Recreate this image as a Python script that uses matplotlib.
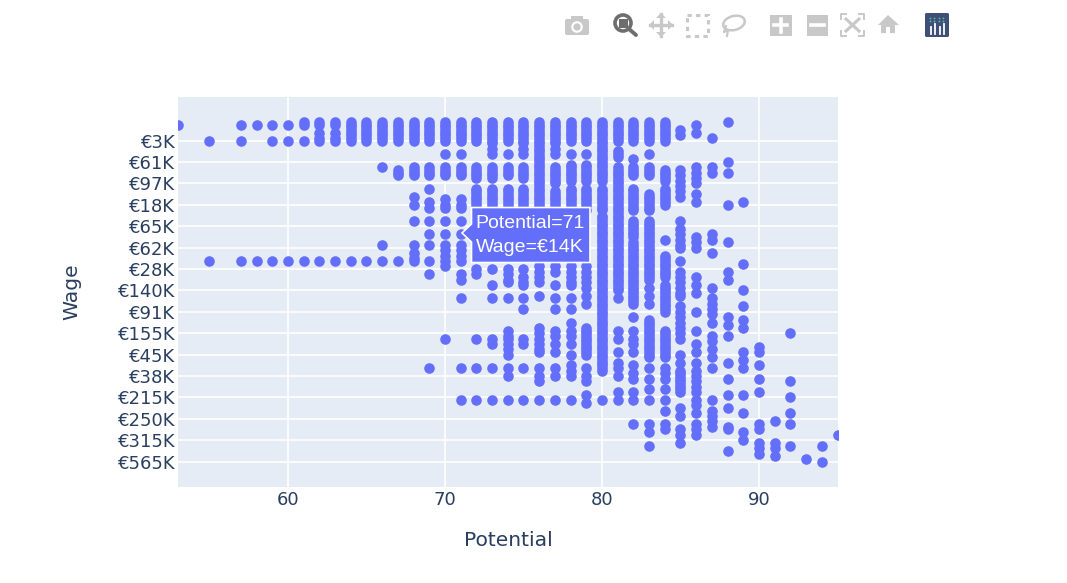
import matplotlib
matplotlib.use('Agg')
import matplotlib.pyplot as plt
from matplotlib.patches import Rectangle, Polygon, Circle, FancyBboxPatch, Ellipse

# Wage is a category axis, rows are category positions counted from the top
rows_53 = [1]
rows_55 = [7, 52]
rows_57 = [1, 7, 52]
rows_58 = [1, 52]
rows_59 = [1, 7, 52]
rows_60 = [1, 7, 52]
rows_61 = [0, 1, 7, 52]
rows_62 = [0, 1, 4, 6, 7, 52]
rows_63 = [0, 1, 4, 6, 7, 52]
rows_64 = [0, 1, 2, 3, 4, 5, 6, 7, 52]
rows_65 = [0, 1, 2, 3, 4, 5, 6, 7, 52]
rows_66 = [0, 1, 2, 3, 4, 5, 6, 7, 17, 46, 52]
rows_67 = [0, 1, 2, 3, 4, 5, 6, 7, 18, 19, 20, 52]
rows_68 = [0, 1, 2, 3, 4, 5, 6, 7, 17, 18, 19, 20, 28, 31, 37, 46, 49, 51, 52]
rows_69 = [0, 1, 2, 3, 4, 5, 6, 7, 17, 18, 19, 20, 25, 30, 32, 37, 42, 46, 52, 57, 92]
rows_70 = [0, 1, 2, 3, 4, 5, 6, 7, 12, 17, 18, 19, 20, 29, 31, 32, 37, 42, 46, 48, 50, 52, 54, 81]
rows_71 = [0, 1, 2, 3, 4, 5, 6, 7, 12, 17, 18, 19, 20, 29, 31, 32, 37, 42, 46, 48, 50, 52, 57, 59, 66, 92,
           104]
rows_72 = [0, 1, 2, 3, 4, 5, 6, 7, 17, 18, 19, 20, 21, 25, 26, 27, 28, 29, 30, 31, 33, 55, 57, 81, 92, 104]
rows_73 = [0, 1, 2, 3, 4, 5, 6, 7, 8, 10, 12, 17, 18, 19, 20, 21, 25, 26, 27, 28, 29, 30, 31, 33, 55, 61,
           66, 81, 83, 92, 104]
rows_74 = [0, 1, 2, 3, 4, 5, 6, 7, 12, 17, 18, 19, 20, 25, 26, 27, 28, 29, 30, 31, 33, 55, 57, 59, 60, 66,
           78, 80, 81, 83, 85, 87, 92, 95, 104]
rows_75 = [0, 1, 2, 3, 4, 5, 6, 7, 8, 10, 12, 17, 18, 19, 20, 21, 25, 26, 27, 28, 29, 30, 31, 33, 55, 58,
           60, 61, 66, 70, 81, 83, 92, 104]
rows_76 = [0, 1, 2, 3, 4, 5, 6, 7, 8, 9, 10, 11, 12, 13, 14, 15, 16, 17, 18, 19, 20, 21, 22, 23, 24, 25,
           26, 27, 28, 29, 30, 31, 32, 54, 56, 58, 60, 65, 77, 79, 81, 83, 85, 86, 92, 95, 97, 104]
rows_77 = [0, 1, 2, 3, 4, 5, 6, 7, 8, 10, 12, 17, 18, 19, 20, 21, 22, 23, 26, 27, 28, 29, 30, 31, 33, 54,
           56, 61, 66, 70, 78, 80, 83, 86, 92, 95, 104]
rows_78 = [0, 1, 2, 3, 4, 5, 6, 7, 12, 16, 17, 18, 19, 20, 21, 22, 25, 26, 27, 28, 29, 30, 31, 33, 54, 56,
           58, 60, 61, 66, 70, 75, 78, 80, 83, 87, 91, 93, 95, 104]
rows_79 = [0, 1, 2, 3, 4, 5, 6, 7, 12, 16, 17, 18, 19, 20, 21, 22, 25, 26, 27, 28, 29, 30, 31, 33, 54, 56,
           58, 60, 62, 65, 68, 77, 78, 79, 80, 81, 82, 83, 84, 85, 86, 87, 92, 95, 97, 102, 105]
rows_80 = [0, 1, 2, 3, 4, 5, 6, 7, 8, 9, 10, 11, 12, 13, 14, 15, 16, 17, 18, 19, 20, 21, 22, 25, 26, 27,
           28, 29, 30, 31, 32, 33, 35, 36, 37, 38, 39, 40, 41, 42, 43, 44, 45, 46, 47, 48, 49, 50, 51, 52,
           53, 54, 55, 56, 57, 58, 59, 60, 61, 62, 63, 64, 65, 66, 67, 68, 69, 70, 71, 72, 73, 74, 75, 76,
           77, 78, 79, 80, 81, 82, 83, 84, 85, 86, 87, 88, 89, 90, 91, 92, 93, 104]
rows_81 = [0, 1, 2, 3, 4, 5, 6, 7, 11, 12, 13, 17, 18, 19, 20, 21, 22, 23, 24, 25, 26, 27, 28, 29, 30, 31,
           32, 33, 34, 35, 36, 37, 38, 39, 40, 41, 42, 43, 44, 45, 46, 47, 48, 49, 50, 51, 52, 53, 54, 55,
           56, 57, 58, 59, 60, 61, 62, 63, 66, 78, 81, 86, 90, 92, 95, 101, 104]
rows_82 = [0, 1, 2, 3, 4, 5, 6, 7, 14, 17, 18, 19, 20, 25, 26, 27, 28, 29, 30, 31, 32, 33, 37, 38, 39, 40,
           41, 42, 43, 45, 46, 47, 48, 49, 50, 51, 52, 53, 54, 55, 56, 57, 58, 59, 60, 61, 62, 63, 64, 65,
           66, 67, 68, 73, 78, 81, 83, 86, 91, 94, 96, 101, 104, 113]
rows_83 = [0, 1, 2, 3, 4, 5, 6, 7, 12, 17, 18, 19, 20, 27, 28, 29, 30, 31, 32, 33, 37, 38, 39, 40, 41, 42,
           43, 44, 45, 46, 47, 48, 49, 50, 51, 52, 53, 54, 55, 56, 57, 58, 59, 62, 65, 68, 74, 75, 76, 77,
           78, 79, 80, 81, 82, 83, 84, 85, 86, 87, 88, 92, 96, 100, 104, 113, 116, 121]
rows_84 = [0, 1, 2, 3, 4, 5, 6, 7, 18, 19, 20, 21, 22, 25, 26, 27, 28, 29, 30, 31, 44, 50, 51, 52, 53, 54,
           55, 56, 57, 58, 61, 62, 63, 64, 65, 66, 67, 68, 69, 70, 71, 78, 79, 80, 81, 82, 83, 84, 85, 86,
           87, 88, 92, 94, 96, 100, 104, 108, 113, 115]
rows_85 = [3, 5, 18, 20, 22, 24, 26, 28, 37, 40, 42, 44, 46, 47, 52, 56, 58, 60, 62, 64, 65, 69, 71, 73,
           75, 77, 79, 81, 87, 90, 93, 94, 95, 96, 97, 98, 99, 100, 101, 107, 110, 115, 117, 120]
rows_86 = [1, 4, 17, 19, 21, 23, 27, 30, 43, 45, 47, 58, 61, 64, 71, 78, 83, 86, 90, 93, 95, 97, 99, 101,
           104, 106, 109, 113, 115, 117]
rows_87 = [6, 17, 19, 42, 44, 49, 62, 66, 68, 70, 72, 75, 80, 82, 85, 88, 92, 104, 108, 110, 112, 114]
rows_88 = [0, 15, 19, 31, 45, 56, 59, 73, 76, 80, 90, 96, 102, 107, 114, 115, 123]
rows_89 = [30, 53, 63, 69, 74, 77, 86, 89, 92, 102, 109, 116, 119]
rows_90 = [84, 86, 91, 96, 101, 113, 115, 120, 122, 124]
rows_91 = [112, 120, 122, 125]
rows_92 = [79, 97, 103, 109, 113, 121]
rows_93 = [126]
rows_94 = [121, 127]
rows_95 = [117]

potentials = [53, 55, 57, 58, 59, 60, 61, 62, 63, 64, 65, 66, 67, 68, 69, 70, 71, 72, 73, 74, 75, 76, 77,
              78, 79, 80, 81, 82, 83, 84, 85, 86, 87, 88, 89, 90, 91, 92, 93, 94, 95]
wage_rows = [rows_53, rows_55, rows_57, rows_58, rows_59, rows_60, rows_61, rows_62, rows_63, rows_64,
             rows_65, rows_66, rows_67, rows_68, rows_69, rows_70, rows_71, rows_72, rows_73, rows_74,
             rows_75, rows_76, rows_77, rows_78, rows_79, rows_80, rows_81, rows_82, rows_83, rows_84,
             rows_85, rows_86, rows_87, rows_88, rows_89, rows_90, rows_91, rows_92, rows_93, rows_94,
             rows_95]

tick_rows = [7, 15, 23, 31, 39, 47, 55, 63, 71, 79, 87, 95, 103, 111, 119, 127]
tick_labels = ['€3K', '€61K', '€97K', '€18K', '€65K', '€62K', '€28K', '€140K', '€91K', '€155K', '€45K',
               '€38K', '€215K', '€250K', '€315K', '€565K']
x_ticks = [60, 70, 80, 90]

W, H = 1067, 583
BLUE = '#636efa'
INK = '#2a3f5f'

fig = plt.figure(figsize=(W / 100, H / 100), dpi=100, facecolor='white')
ax = fig.add_axes([178 / W, 1 - 487 / H, 660 / W, 390 / H], facecolor='#e5ecf6')

xs = []
ys = []
for p, rows in zip(potentials, wage_rows):
    xs += [p] * len(rows)
    ys += rows
ax.scatter(xs, ys, s=58, color=BLUE, linewidths=0, zorder=3)

ax.set_xlim(53, 95.03)
ax.set_ylim(136.5, -9.32)
ax.set_xticks(x_ticks)
ax.set_yticks(tick_rows)
ax.set_yticklabels(tick_labels)
ax.grid(True, color='white', linewidth=1.2, zorder=1)
ax.set_axisbelow(True)
for s in ax.spines.values():
    s.set_visible(False)
ax.tick_params(length=0, labelsize=13, labelcolor=INK, pad=2)
ax.tick_params(axis='x', pad=3)

# overlay in pixel coordinates for titles, hover label and modebar
ov = fig.add_axes([0, 0, 1, 1], facecolor='none')
ov.set_xlim(0, W)
ov.set_ylim(H, 0)
ov.axis('off')

ov.text(508, 540, 'Potential', color=INK, fontsize=14.6, ha='center', va='center')
ov.text(72, 292, 'Wage', color=INK, fontsize=14.6, ha='center', va='center', rotation=90)

# hover label
ov.add_patch(Polygon([(462, 233), (471.5, 224), (471.5, 207.5), (590, 207.5), (590, 262.5),
                      (471.5, 262.5), (471.5, 242)], closed=True, facecolor=BLUE,
                     edgecolor='white', linewidth=1.2, zorder=5))
ov.text(475.5, 223, 'Potential=71', color='white', fontsize=14, family='Liberation Sans',
        va='center', zorder=6)
ov.text(475.5, 248, 'Wage=€14K', color='white', fontsize=14, family='Liberation Sans',
        va='center', zorder=6)

# modebar icons
GREY = '#c8c8c8'
DARK = '#6e6e6e'

# camera
ov.add_patch(FancyBboxPatch((565, 19), 24, 16, boxstyle='round,pad=0,rounding_size=2', fc=GREY, ec='none'))
ov.add_patch(Rectangle((571, 16), 12, 4, fc=GREY, ec='none'))
ov.add_patch(Circle((577, 27), 5.8, fc='white', ec='none'))
ov.add_patch(Circle((577, 27), 3.6, fc=GREY, ec='none'))
# zoom
ov.add_patch(Circle((623, 23), 8, fc='none', ec=DARK, lw=2.6))
ov.add_patch(Rectangle((618.5, 18.5), 9, 9, fc=DARK, ec='none'))
ov.plot([629, 636], [29, 35], color=DARK, lw=2.8, solid_capstyle='round')
# pan
ov.plot([650, 672], [25, 25], color=GREY, lw=2.4)
ov.plot([661, 661], [14, 36], color=GREY, lw=2.4)
for pts in ([(661, 13), (656, 18), (666, 18)], [(661, 37), (656, 32), (666, 32)],
            [(649, 25), (654, 20), (654, 30)], [(673, 25), (668, 20), (668, 30)]):
    ov.add_patch(Polygon(pts, closed=True, fc=GREY, ec='none'))
# box select
ov.add_patch(Rectangle((686.5, 14.5), 21, 21, fc='none', ec=GREY, lw=2.2, ls=(0, (1.4, 1.4))))
# lasso
ov.add_patch(Ellipse((734, 23), 22, 14, angle=-15, fc='none', ec=GREY, lw=1.8))
ov.plot([726, 724, 728, 727], [26, 32, 30, 36], color=GREY, lw=1.6)
# zoom in / out
ov.add_patch(Rectangle((770, 14.5), 21.5, 21.5, fc=GREY, ec='none'))
ov.plot([774, 787], [25, 25], color='white', lw=2.6)
ov.plot([781, 781], [19, 32], color='white', lw=2.6)
ov.add_patch(Rectangle((806.5, 14.5), 21.5, 21.5, fc=GREY, ec='none'))
ov.plot([811, 824], [25, 25], color='white', lw=2.6)
# autoscale
for x0, y0, dx, dy in ((841, 14, 1, 1), (864, 14, -1, 1), (841, 36, 1, -1), (864, 36, -1, -1)):
    ov.plot([x0, x0, x0 + 5 * dx], [y0 + 5 * dy, y0, y0], color=GREY, lw=1.4)
ov.plot([846, 859], [19, 31], color=GREY, lw=2.2)
ov.plot([859, 846], [19, 31], color=GREY, lw=2.2)
# home
ov.add_patch(Polygon([(878, 25), (888, 15), (899, 25), (895, 25), (895, 33), (890, 33), (890, 27),
                      (886, 27), (886, 33), (881, 33), (881, 25)], closed=True, fc=GREY, ec='none'))
# plotly logo
ov.add_patch(FancyBboxPatch((925, 13), 24, 24, boxstyle='round,pad=0,rounding_size=1.5', fc='#3f4f75', ec='none'))
for bx, by in ((930.5, 27), (934.5, 24), (939.5, 27), (943.5, 24)):
    ov.plot([bx, bx], [by, 34], color='white', lw=1.3)
for bx in (930.5, 934.5, 939.5, 943.5):
    for by in (18.5, 21.5):
        ov.add_patch(Circle((bx, by), 0.9, fc='#53b9b0', ec='none'))

fig.savefig('out.png', dpi=100)
